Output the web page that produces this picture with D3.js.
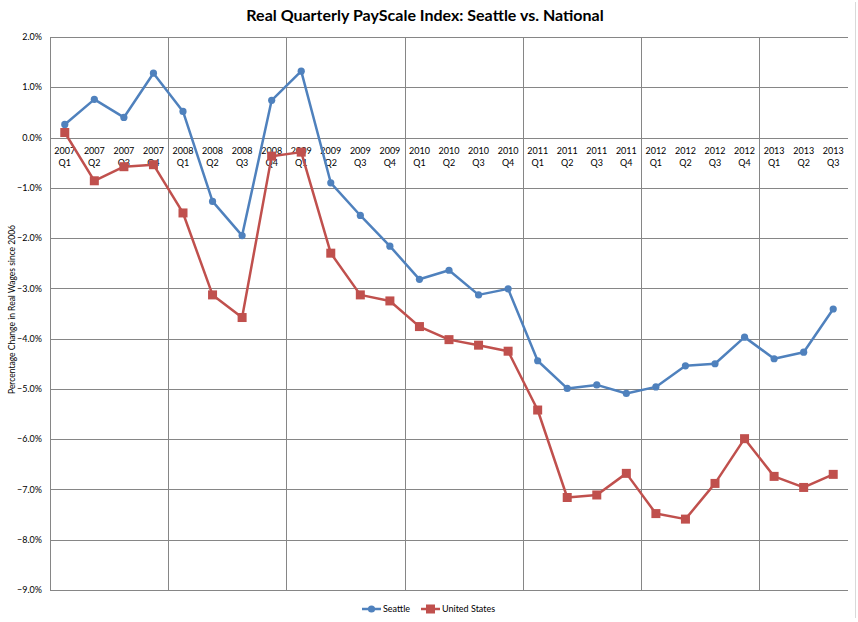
<!DOCTYPE html>
<html>
<head>
<meta charset="utf-8">
<title>Real Quarterly PayScale Index</title>
<style>
  body { margin: 0; background: #fff; }
  svg { display: block; font-family: Lato, "Open Sans", sans-serif; }
  .grid line { stroke: #868686; stroke-width: 1.3; shape-rendering: crispEdges; }
  .ytick text { font-size: 9px; fill: #000; }
  .xtick text { font-size: 9px; fill: #000; }
</style>
</head>
<body>
<svg width="858" height="622"></svg>
<script src="https://d3js.org/d3.v7.min.js"></script>
<script>
// quarters 2007 Q1 .. 2013 Q3
var years = ["2007","2007","2007","2007","2008","2008","2008","2008","2009","2009","2009","2009",
             "2010","2010","2010","2010","2011","2011","2011","2011","2012","2012","2012","2012",
             "2013","2013","2013"];
var quarters = ["Q1","Q2","Q3","Q4","Q1","Q2","Q3","Q4","Q1","Q2","Q3","Q4",
                "Q1","Q2","Q3","Q4","Q1","Q2","Q3","Q4","Q1","Q2","Q3","Q4",
                "Q1","Q2","Q3"];

// percentage change in real wages since 2006
var seattle = [0.26, 0.76, 0.40, 1.28, 0.52, -1.27, -1.95, 0.74, 1.32, -0.90, -1.55, -2.16,
               -2.82, -2.64, -3.13, -3.01, -4.44, -4.99, -4.92, -5.09, -4.96, -4.54, -4.50, -3.97,
               -4.40, -4.27, -3.41];
var unitedStates = [0.10, -0.86, -0.58, -0.54, -1.50, -3.13, -3.58, -0.37, -0.29, -2.30, -3.13, -3.25,
                    -3.76, -4.02, -4.13, -4.25, -5.42, -7.16, -7.11, -6.68, -7.48, -7.59, -6.88, -5.99,
                    -6.74, -6.96, -6.70];

var yTicks = [2, 1, 0, -1, -2, -3, -4, -5, -6, -7, -8, -9];

var svg = d3.select("svg"),
    margin = {top: 37, right: 10, bottom: 32, left: 50},
    width = 848 - margin.left,
    height = 590 - margin.top,
    g = svg.append("g").attr("transform", "translate(" + margin.left + "," + margin.top + ")");

// chart border (only right edge visible in the reference)
svg.append("line")
  .attr("x1", 855.5).attr("x2", 855.5).attr("y1", 2).attr("y2", 618)
  .attr("stroke", "#d9d9d9").attr("stroke-width", 1);

var idx = d3.range(years.length);
var x = d3.scaleBand().domain(idx).range([0, width]);
var y = d3.scaleLinear().domain([-9, 2]).range([height, 0]);

// horizontal gridlines
var grid = g.append("g").attr("class", "grid");
grid.selectAll(".h").data(yTicks).enter().append("line")
  .attr("x1", 0).attr("x2", width)
  .attr("y1", function(d) { return Math.round(y(d)) + 0.5; })
  .attr("y2", function(d) { return Math.round(y(d)) + 0.5; });

// vertical gridlines every 4 quarters
var vIdx = idx.filter(function(i) { return i % 4 === 0; });
grid.selectAll(".v").data(vIdx).enter().append("line")
  .attr("x1", function(i) { return Math.round(x(i)) + 0.5; })
  .attr("x2", function(i) { return Math.round(x(i)) + 0.5; })
  .attr("y1", 0).attr("y2", height);

// y tick labels
g.selectAll(".ytick").data(yTicks).enter().append("g")
  .attr("class", "ytick")
  .append("text")
  .attr("x", -8)
  .attr("y", function(d) { return y(d); })
  .attr("dy", "0.35em")
  .attr("text-anchor", "end")
  .text(function(d) { return d3.format(".1f")(d) + "%"; });

// x category labels along the 0% line
var xt = g.selectAll(".xtick").data(idx).enter().append("g")
  .attr("class", "xtick")
  .attr("transform", function(i) { return "translate(" + (x(i) + x.bandwidth() / 2) + "," + y(0) + ")"; });
xt.append("text").attr("y", 16).attr("text-anchor", "middle").text(function(i) { return years[i]; });
xt.append("text").attr("y", 28).attr("text-anchor", "middle").text(function(i) { return quarters[i]; });

// series
var cx = function(i) { return x(i) + x.bandwidth() / 2; };
var series = [
  {name: "Seattle", values: seattle, color: "#4f81bd", marker: "circle"},
  {name: "United States", values: unitedStates, color: "#c0504d", marker: "square"}
];

series.forEach(function(s) {
  var line = d3.line().x(function(d, i) { return cx(i); }).y(function(d) { return y(d); });
  g.append("path")
    .datum(s.values)
    .attr("fill", "none")
    .attr("stroke", s.color)
    .attr("stroke-width", 2.5)
    .attr("stroke-linejoin", "round")
    .attr("d", line);
  if (s.marker === "circle") {
    g.selectAll(".m-seattle").data(s.values).enter().append("circle")
      .attr("cx", function(d, i) { return cx(i); })
      .attr("cy", function(d) { return y(d); })
      .attr("r", 3.6)
      .attr("fill", s.color);
  } else {
    g.selectAll(".m-us").data(s.values).enter().append("rect")
      .attr("x", function(d, i) { return cx(i) - 4.5; })
      .attr("y", function(d) { return y(d) - 4.5; })
      .attr("width", 9).attr("height", 9)
      .attr("fill", s.color);
  }
});

// title
svg.append("text")
  .attr("x", 425).attr("y", 21)
  .attr("text-anchor", "middle")
  .attr("font-size", "16px")
  .attr("font-weight", "bold")
  .text("Real Quarterly PayScale Index: Seattle vs. National");

// y axis title
svg.append("text")
  .attr("transform", "translate(15," + (margin.top + height / 2 - 4) + ") rotate(-90)")
  .attr("text-anchor", "middle")
  .attr("font-size", "8.5px")
  .text("Percentage Change in Real Wages since 2006");

// legend
var legend = svg.append("g").attr("transform", "translate(0,609)");
legend.append("line").attr("x1", 362).attr("x2", 381).attr("stroke", "#4f81bd").attr("stroke-width", 2.5);
legend.append("circle").attr("cx", 371.5).attr("cy", 0).attr("r", 3.6).attr("fill", "#4f81bd");
legend.append("text").attr("x", 383).attr("dy", "0.35em").attr("font-size", "9px").text("Seattle");
legend.append("line").attr("x1", 421).attr("x2", 440).attr("stroke", "#c0504d").attr("stroke-width", 2.5);
legend.append("rect").attr("x", 426).attr("y", -4.5).attr("width", 9).attr("height", 9).attr("fill", "#c0504d");
legend.append("text").attr("x", 442).attr("dy", "0.35em").attr("font-size", "9px").text("United States");
</script>
</body>
</html>
